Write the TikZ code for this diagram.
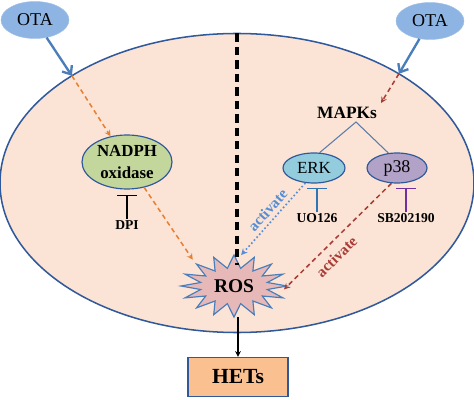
\documentclass[tikz,border=0pt]{standalone}
\usepackage{fontspec}
\setmainfont{Liberation Serif}
\usetikzlibrary{shapes.geometric,arrows.meta}
\definecolor{cellfill}{HTML}{FBE4D5}
\definecolor{cellline}{HTML}{30599B}
\definecolor{otafill}{HTML}{8DB4E2}
\definecolor{otaline}{HTML}{4A7EBB}
\definecolor{orangedash}{HTML}{E97F32}
\definecolor{reddash}{HTML}{A83C36}
\definecolor{nadphfill}{HTML}{C3D69B}
\definecolor{erkfill}{HTML}{93CDDD}
\definecolor{pfill}{HTML}{B3A2C7}
\definecolor{rosfill}{HTML}{E6B9B8}
\definecolor{hetsfill}{HTML}{FAC090}
\definecolor{erkinh}{HTML}{2E75B6}
\definecolor{pinh}{HTML}{7030A0}
\definecolor{actblue}{HTML}{558ED5}
\definecolor{mapline}{HTML}{5B7BA8}
\begin{document}
\begin{tikzpicture}[x=0.03cm, y=-0.03cm, >=stealth,
  fs/.style={font=\fontsize{#1pt}{#1pt}\selectfont},
  oval/.style={ellipse, draw=cellline, line width=1pt, inner sep=0pt},
  otanode/.style={ellipse, fill=otafill, draw=otafill!85!white, minimum width=2.04cm, minimum height=1.11cm, inner sep=0pt, fs=15.4},
  otaarrow/.style={draw=otaline, line width=2pt, -{Straight Barb[length=6pt, width=10pt]}},
  inhlabel/.style={font=\bfseries\fontsize{11.6pt}{12pt}\selectfont, inner sep=1pt},
  inhibit/.style={line width=1.6pt, -{Bar[width=0.6cm]}, shorten >=0.15cm}]

\useasboundingbox (0,0) rectangle (474,400);

% cell
\node[oval, fill=cellfill, line width=1.3pt, outer sep=0pt, minimum width=14.22cm, minimum height=8.97cm] (cell) at (237,183) {};

\node[otanode] (ota1) at (35,20) {OTA};
\node[otanode] (ota2) at (430,21) {OTA};
\coordinate (in1) at (cell.147.8);
\coordinate (in2) at (cell.34.7);

\node[oval, fill=nadphfill, minimum width=2.7cm, minimum height=1.62cm, align=center, font=\bfseries\fontsize{14.4pt}{18.8pt}\selectfont] (nadph) at (127,162) {NADPH\\oxidase};
\node[inhlabel] (dpi) at (127,225) {DPI};

\node[font=\bfseries\fontsize{14.8pt}{16pt}\selectfont] (mapks) at (347,113) {MAPKs};
\coordinate (split) at (356,122);
\node[oval, fill=erkfill, minimum width=1.86cm, minimum height=0.9cm, fs=14.5] (erk) at (314,168) {ERK};
\node[oval, fill=pfill, minimum width=1.8cm, minimum height=0.9cm, fs=15.3] (p38) at (397,168) {p38};
\node[inhlabel] (uo) at (317,218) {UO126};
\node[inhlabel] (sb) at (406,218) {SB202190};

% ROS burst
\draw[draw=otaline, fill=rosfill, line width=1pt, shift={(234,286)}]
  plot[samples at={0,...,31}, variable=\k]
  ({cos(\k*11.25)*ifthenelse(mod(\k,2)==0,53,34)}, {sin(\k*11.25)*ifthenelse(mod(\k,2)==0,31,18)}) -- cycle;
\node[ellipse, minimum width=3cm, minimum height=1.86cm, inner sep=0pt, font=\bfseries\fontsize{16.6pt}{18pt}\selectfont] (ros) at (234,286) {ROS};

\node[draw=cellline, fill=hetsfill, line width=1pt, minimum width=3cm, minimum height=1.17cm, font=\bfseries\fontsize{18.4pt}{20pt}\selectfont] (hets) at (238,377) {HETs};

% divider
\draw[line width=2.6pt, dash pattern=on 7pt off 4.5pt, shorten >=0.63cm] (cell.north) -- (cell.north |- ros.center);

% arrows
\draw[otaarrow] (ota1) -- (in1);
\draw[otaarrow] (ota2) -- (in2);
\draw[->, orangedash, line width=1.3pt, dash pattern=on 4pt off 3pt] (in1) -- (nadph);
\draw[->, orangedash, line width=1.3pt, dash pattern=on 4pt off 3pt, shorten >=0.2cm] (nadph) -- (ros.151);
\draw[->, reddash, line width=1.3pt, dash pattern=on 4pt off 3pt] (in2) -- (mapks.north east);
\draw[mapline, line width=0.9pt] (erk.70) -- (split) -- (p38.120);
\draw[->, actblue, line width=1.4pt, dotted] (erk.240) -- node[sloped, above, pos=0.47, font=\bfseries\fontsize{13pt}{14pt}\selectfont] {activate} (ros.77);
\draw[->, reddash, line width=1.3pt, dash pattern=on 4pt off 3pt] (p38.250) -- node[sloped, below=3pt, pos=0.6, font=\bfseries\fontsize{13pt}{14pt}\selectfont] {activate} (ros.-4);
\draw[->, line width=1.2pt] (hets.north |- ros.south) -- (hets.north);

% inhibitors
\draw[inhibit] (dpi.north) -- (dpi.north |- nadph.south);
\draw[inhibit, erkinh, shorten >=0.12cm] (uo.north) -- (uo.north |- erk.south);
\draw[inhibit, pinh, shorten >=0.12cm] (sb.north) -- (sb.north |- p38.south);
\end{tikzpicture}
\end{document}
